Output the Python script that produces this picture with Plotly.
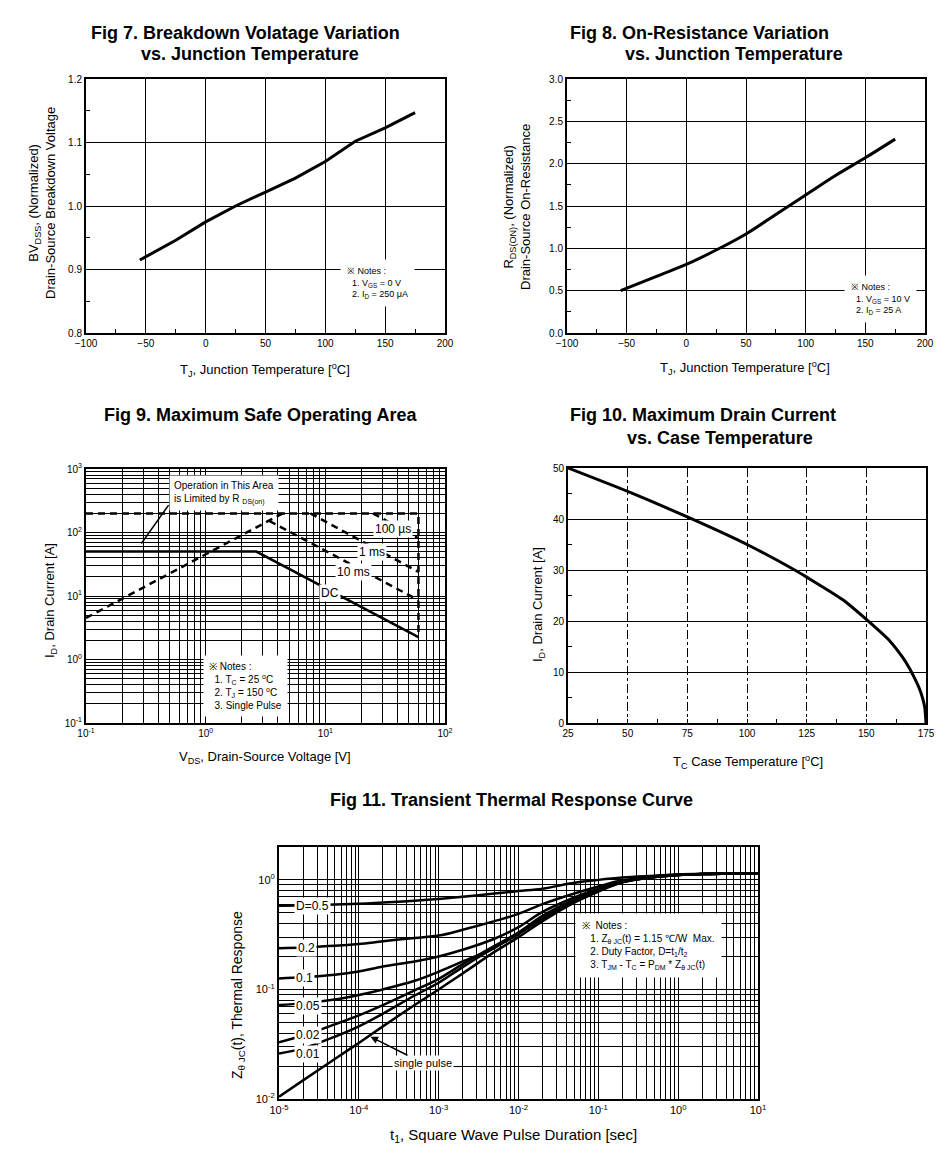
import math
import plotly.graph_objects as go

W, H = 952, 1167
OFF = 8                      # browser body margin
FW, FH = W - 2 * OFF, H - 2 * OFF
FONT = "Liberation Sans, Arial, sans-serif"

# ---------------- Fig 7 data ----------------
bv_temp = [-55, -25, 0, 25, 50, 75, 100, 125, 150, 175]
bv_norm = [0.915, 0.946, 0.975, 1.0, 1.022, 1.044, 1.07, 1.102, 1.123, 1.147]

# ---------------- Fig 8 data ----------------
rds_temp = [-55, -25, 0, 25, 50, 75, 100, 125, 150, 175]
rds_norm = [0.50, 0.67, 0.81, 0.98, 1.17, 1.40, 1.63, 1.86, 2.07, 2.29]

# ---------------- Fig 9 data (SOA) ----------------
rds_lim_v = [0.1, 4.4]
rds_lim_i = [4.5, 200]
pulse_lim_v = [0.1, 60, 60]
pulse_lim_i = [200, 200, 2.25]
us100_v = [25, 60]
us100_i = [200, 81]
ms1_v = [7.5, 60]
ms1_i = [200, 24]
ms10_v = [3.4, 60]
ms10_i = [152, 8.6]
dc_v = [0.1, 2.65, 60]
dc_i = [50, 50, 2.25]
pointer_v = [0.29, 0.49]
pointer_i = [67, 270]
soa_labels = ["100 µs", "1 ms", "10 ms", "DC"]
soa_label_v = [36.5, 24.4, 17.1, 10.9]
soa_label_i = [112, 50, 24, 11]

# ---------------- Fig 10 data ----------------
case_temp = [25, 50, 75, 100, 120, 125, 140, 150, 160, 165, 168, 170, 172, 173.5, 174.5, 175]
drain_current = [50, 45.4, 40.4, 35.0, 30.0, 28.6, 24.2, 20.3, 16.0, 13.0, 10.8, 9.0, 7.0, 5.0, 3.0, 0]

# ---------------- Fig 11 data ----------------
pulse_t = [1e-5, 2e-5, 5e-5, 1e-4, 2e-4, 5e-4, 1e-3, 2e-3, 5e-3, 1e-2, 2e-2,
           5e-2, 0.1, 0.2, 0.5, 1, 2, 5, 10]
z_d05 = [0.58, 0.585, 0.595, 0.605, 0.62, 0.645, 0.67, 0.70, 0.75, 0.79, 0.83,
         0.94, 1.0, 1.05, 1.09, 1.12, 1.135, 1.145, 1.15]
z_d02 = [0.238, 0.242, 0.25, 0.26, 0.275, 0.295, 0.31, 0.35, 0.42, 0.49, 0.60,
         0.75, 0.87, 0.99, 1.08, 1.12, 1.13, 1.14, 1.15]
z_d01 = [0.126, 0.129, 0.136, 0.146, 0.162, 0.18, 0.20, 0.23, 0.29, 0.37, 0.51,
         0.69, 0.83, 0.97, 1.07, 1.11, 1.13, 1.14, 1.15]
z_d005 = [0.072, 0.075, 0.081, 0.089, 0.10, 0.12, 0.145, 0.18, 0.24, 0.33, 0.47,
          0.66, 0.81, 0.96, 1.06, 1.11, 1.13, 1.14, 1.15]
z_d002 = [0.033, 0.038, 0.048, 0.058, 0.072, 0.098, 0.125, 0.17, 0.25, 0.33, 0.46,
          0.65, 0.80, 0.96, 1.06, 1.11, 1.13, 1.14, 1.15]
z_d001 = [0.026, 0.029, 0.037, 0.046, 0.060, 0.088, 0.115, 0.16, 0.24, 0.32, 0.44,
          0.63, 0.79, 0.95, 1.06, 1.11, 1.13, 1.14, 1.15]
z_single = [0.0105, 0.0148, 0.0232, 0.0325, 0.046, 0.072, 0.10, 0.14, 0.22, 0.30, 0.42,
            0.62, 0.78, 0.95, 1.06, 1.11, 1.13, 1.14, 1.15]
duty_labels = ["D=0.5", "0.2", "0.1", "0.05", "0.02", "0.01"]
duty_label_t = [2.6e-5, 2.2e-5, 2.1e-5, 2.3e-5, 2.3e-5, 2.3e-5]
duty_label_z = [0.58, 0.24, 0.128, 0.071, 0.038, 0.026]
single_pulse_target = [1.4e-4, 0.037]

# tick labels
soa_x_ticks = [0.1, 1, 10, 100]
soa_x_text = ["10<sup>-1</sup>", "10<sup>0</sup>", "10<sup>1</sup>", "10<sup>2</sup>"]
soa_y_ticks = [0.1, 1, 10, 100, 1000]
soa_y_text = ["10<sup>-1</sup>", "10<sup>0</sup>", "10<sup>1</sup>", "10<sup>2</sup>", "10<sup>3</sup>"]
zth_x_ticks = [1e-5, 1e-4, 1e-3, 1e-2, 1e-1, 1, 10]
zth_x_text = ["10<sup>-5</sup>", "10<sup>-4</sup>", "10<sup>-3</sup>", "10<sup>-2</sup>",
              "10<sup>-1</sup>", "10<sup>0</sup>", "10<sup>1</sup>"]
zth_y_ticks = [0.01, 0.1, 1]
zth_y_text = ["10<sup>-2</sup>", "10<sup>-1</sup>", "10<sup>0</sup>"]


def X(px):
    return (px - OFF) / FW


def Y(py):
    return 1 - (py - OFF) / FH


def xd(a, b):
    return [X(a), X(b)]


def yd(top, bottom):
    return [Y(bottom), Y(top)]


fig = go.Figure()

thick = dict(color="black", width=3)
dash = dict(color="black", width=2.5, dash="7px,5px")

fig.add_trace(go.Scatter(x=bv_temp, y=bv_norm, mode="lines", line=thick, xaxis="x", yaxis="y"))
fig.add_trace(go.Scatter(x=rds_temp, y=rds_norm, mode="lines", line=thick, line_shape="spline",
                         xaxis="x2", yaxis="y2"))

fig.add_trace(go.Scatter(x=pulse_lim_v, y=pulse_lim_i, mode="lines", line=dash, xaxis="x3", yaxis="y3"))
fig.add_trace(go.Scatter(x=rds_lim_v, y=rds_lim_i, mode="lines", line=dash, xaxis="x3", yaxis="y3"))
fig.add_trace(go.Scatter(x=us100_v, y=us100_i, mode="lines", line=dash, xaxis="x3", yaxis="y3"))
fig.add_trace(go.Scatter(x=ms1_v, y=ms1_i, mode="lines", line=dash, xaxis="x3", yaxis="y3"))
fig.add_trace(go.Scatter(x=ms10_v, y=ms10_i, mode="lines", line=dash, xaxis="x3", yaxis="y3"))
fig.add_trace(go.Scatter(x=dc_v, y=dc_i, mode="lines", line=dict(color="black", width=2.5), xaxis="x3", yaxis="y3"))
fig.add_trace(go.Scatter(x=pointer_v, y=pointer_i, mode="lines", line=dict(color="black", width=1.5), xaxis="x3", yaxis="y3"))

fig.add_trace(go.Scatter(x=case_temp, y=drain_current, mode="lines", line=thick, line_shape="spline",
                         line_smoothing=0.6, xaxis="x4", yaxis="y4"))

for z in [z_d05, z_d02, z_d01, z_d005, z_d002, z_d001, z_single]:
    fig.add_trace(go.Scatter(x=pulse_t, y=z, mode="lines", line=dict(color="black", width=2.5),
                             line_shape="spline", xaxis="x5", yaxis="y5"))

tickfont = dict(family=FONT, size=10, color="black")
base = dict(showline=True, linecolor="black", linewidth=2, mirror=True, automargin=False,
            showgrid=True, gridcolor="black", gridwidth=1, zeroline=False,
            ticks="inside", tickcolor="black", ticklen=4, tickwidth=1,
            tickfont=tickfont)
logminor = dict(dtick="D1", showgrid=True, gridcolor="black", gridwidth=1)

fig.update_layout(
    width=FW, height=FH, showlegend=False, autosize=False,
    margin=dict(l=0, r=0, t=0, b=0, pad=0, autoexpand=False),
    paper_bgcolor="white", plot_bgcolor="white",
    font=dict(family=FONT, color="black"),
    xaxis=dict(base, domain=xd(86, 445), range=[-100, 200], dtick=50, anchor="y",
               minor=dict(dtick=25, ticks="inside", ticklen=4, tickcolor="black", showgrid=False)),
    yaxis=dict(base, domain=yd(79, 333), range=[0.8, 1.2], dtick=0.1, tickformat=".1f", anchor="x",
               minor=dict(dtick=0.05, ticks="inside", ticklen=4, tickcolor="black", showgrid=False)),
    xaxis2=dict(base, domain=xd(567, 925), range=[-100, 200], dtick=50, anchor="y2",
                minor=dict(dtick=25, ticks="inside", ticklen=4, tickcolor="black", showgrid=False)),
    yaxis2=dict(base, domain=yd(79, 333), range=[0, 3], dtick=0.5, tickformat=".1f", anchor="x2",
                minor=dict(dtick=0.25, ticks="inside", ticklen=4, tickcolor="black", showgrid=False)),
    xaxis3=dict(base, domain=xd(86, 445), type="log", range=[-1, 2], anchor="y3",
                tickvals=soa_x_ticks, ticktext=soa_x_text, ticks="", minor=logminor),
    yaxis3=dict(base, domain=yd(469, 723), type="log", range=[-1, 3], anchor="x3",
                tickvals=soa_y_ticks, ticktext=soa_y_text, ticks="", minor=logminor),
    xaxis4=dict(base, domain=xd(568, 926), range=[25, 175], dtick=25, anchor="y4", griddash="dashdot",
                minor=dict(dtick=12.5, ticks="inside", ticklen=4, tickcolor="black", showgrid=False)),
    yaxis4=dict(base, domain=yd(468, 723), range=[0, 50], dtick=10, anchor="x4",
                minor=dict(dtick=5, ticks="inside", ticklen=4, tickcolor="black", showgrid=False)),
    xaxis5=dict(base, domain=xd(279, 758), type="log", range=[-5, 1], anchor="y5",
                tickvals=zth_x_ticks, ticktext=zth_x_text, ticks="", minor=logminor,
                tickfont=dict(family=FONT, size=11, color="black")),
    yaxis5=dict(base, domain=yd(847, 1099), type="log", range=[-2, 0.3], anchor="x5",
                tickvals=zth_y_ticks, ticktext=zth_y_text, ticks="", minor=logminor,
                tickfont=dict(family=FONT, size=11, color="black")),
)

ann = []


def text(px, py, s, size=12, bold=False, angle=0, xanchor="center", yanchor="middle", align="center",
         bg=None, pad=1):
    if bold:
        s = "<b>" + s + "</b>"
    d = dict(x=X(px), y=Y(py), xref="paper", yref="paper", text=s, showarrow=False,
             font=dict(family=FONT, size=size, color="black"), textangle=angle,
             xanchor=xanchor, yanchor=yanchor, align=align, borderpad=pad)
    if bg:
        d["bgcolor"] = bg
    ann.append(d)


# titles
text(245, 33, "Fig 7. Breakdown Volatage Variation", 18, True)
text(250, 54, "vs. Junction Temperature", 18, True)
text(699, 33, "Fig 8. On-Resistance Variation", 18, True)
text(734, 54, "vs. Junction Temperature", 18, True)
text(261, 415, "Fig 9. Maximum Safe Operating Area", 18, True)
text(703, 415, "Fig 10. Maximum Drain Current", 18, True)
text(720, 438, "vs. Case Temperature", 18, True)
text(511, 800, "Fig 11. Transient Thermal Response Curve", 18, True)

# axis titles
text(265, 370, "T<sub>J</sub>, Junction Temperature [<sup>o</sup>C]", 13)
text(42, 203, "BV<sub>DSS</sub>, (Normalized)<br>Drain-Source Breakdown Voltage", 13, angle=-90)
text(745, 368, "T<sub>J</sub>, Junction Temperature [<sup>o</sup>C]", 13)
text(517, 207, "R<sub>DS(ON)</sub>, (Normalized)<br>Drain-Source On-Resistance", 13, angle=-90)
text(265, 757, "V<sub>DS</sub>, Drain-Source Voltage [V]", 13)
text(50, 601, "I<sub>D</sub>, Drain Current [A]", 13, angle=-90)
text(748, 762, "T<sub>C</sub> Case Temperature [<sup>o</sup>C]", 13)
text(538, 605, "I<sub>D</sub>, Drain Current [A]", 13, angle=-90)
text(513, 1135, "t<sub>1</sub>, Square Wave Pulse Duration [sec]", 15)
text(238, 995, "Z<sub>θ JC</sub>(t), Thermal Response", 14, angle=-90)

# notes
text(340, 283, "※ Notes :<br>  1. V<sub>GS</sub> = 0 V<br>  2. I<sub>D</sub> = 250 μA", 9,
     xanchor="left", align="left", bg="white", pad=6)
text(844, 299, "※ Notes :<br>  1. V<sub>GS</sub> = 10 V<br>  2. I<sub>D</sub> = 25 A", 9,
     xanchor="left", align="left", bg="white", pad=6)
text(203, 686, "※ Notes :<br>  1. T<sub>C</sub> = 25 <sup>o</sup>C<br>  2. T<sub>J</sub> = 150 <sup>o</sup>C<br>  3. Single Pulse", 10,
     xanchor="left", align="left", bg="white", pad=5)
text(169, 493, "Operation in This Area<br>is Limited by R <sub>DS(on)</sub>", 10,
     xanchor="left", align="left", bg="white", pad=4)
text(575, 945, "※  Notes :<br>   1. Z<sub>θ JC</sub>(t) = 1.15 ℃/W  Max.<br>   2. Duty Factor, D=t<sub>1</sub>/t<sub>2</sub><br>   3. T<sub>JM</sub> - T<sub>C</sub> = P<sub>DM</sub> * Z<sub>θ JC</sub>(t)", 10,
     xanchor="left", align="left", bg="white", pad=6)

for s, v, i in zip(soa_labels, soa_label_v, soa_label_i):
    ann.append(dict(x=math.log10(v), y=math.log10(i), xref="x3", yref="y3", text=s, showarrow=False,
                    font=dict(family=FONT, size=12, color="black"), bgcolor="white", borderpad=1))

for s, t, z in zip(duty_labels, duty_label_t, duty_label_z):
    ann.append(dict(x=math.log10(t), y=math.log10(z), xref="x5", yref="y5", text=s, showarrow=False,
                    font=dict(family=FONT, size=12, color="black"), bgcolor="white", borderpad=1))

ann.append(dict(x=math.log10(single_pulse_target[0]), y=math.log10(single_pulse_target[1]),
                xref="x5", yref="y5", text="single pulse", showarrow=True, arrowhead=2,
                arrowsize=1, arrowwidth=1.5, arrowcolor="black", ax=52, ay=26,
                font=dict(family=FONT, size=11, color="black"), bgcolor="white", borderpad=1))

fig.update_layout(annotations=ann)
fig.write_html("out.html", config={"responsive": False})
